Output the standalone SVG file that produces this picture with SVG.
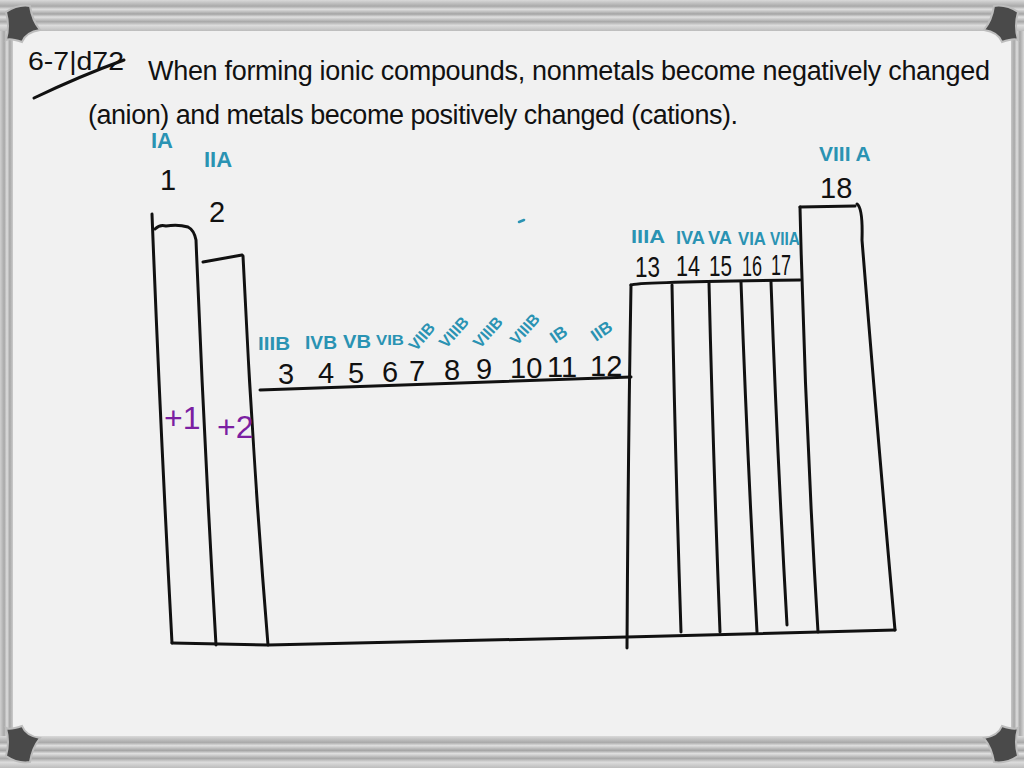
<svg xmlns="http://www.w3.org/2000/svg" width="1024" height="768" viewBox="0 0 1024 768">
<style>
.ln{fill:none;stroke:#111;stroke-width:3;stroke-linecap:round;stroke-linejoin:round}
.hw{font-family:"Liberation Sans",Arial,sans-serif;fill:#111}
.bl{font-family:"Liberation Sans",Arial,sans-serif;fill:#2a93b3;font-weight:bold}
.pu{font-family:"Liberation Sans",Arial,sans-serif;fill:#7b1fa2}
.num{font-family:"Liberation Sans",Arial,sans-serif;fill:#111;font-size:29px}
.corner{fill:#4a4a4a;stroke:#bdbdbd;stroke-width:2}
</style>
<defs>
<linearGradient id="hbar" x1="0" y1="0" x2="0" y2="1">
<stop offset="0" stop-color="#d9d9d9"/><stop offset="0.2" stop-color="#a9a9a9"/><stop offset="0.3" stop-color="#dedede"/><stop offset="0.45" stop-color="#a4a4a4"/><stop offset="0.55" stop-color="#e0e0e0"/><stop offset="0.7" stop-color="#a8a8a8"/><stop offset="0.82" stop-color="#dcdcdc"/><stop offset="1" stop-color="#bcbcbc"/>
</linearGradient>
<linearGradient id="vbar" x1="0" y1="0" x2="1" y2="0">
<stop offset="0" stop-color="#d0d0d0"/><stop offset="0.3" stop-color="#a8a8a8"/><stop offset="0.5" stop-color="#dedede"/><stop offset="0.7" stop-color="#a6a6a6"/><stop offset="1" stop-color="#d8d8d8"/>
</linearGradient>
</defs>
<!-- frame -->
<rect x="0" y="0" width="1024" height="768" fill="#d4d4d4"/>
<rect x="0" y="0" width="1024" height="31" fill="url(#hbar)"/>
<rect x="0" y="736" width="1024" height="32" fill="url(#hbar)"/>
<rect x="0" y="31" width="14" height="705" fill="url(#vbar)"/>
<rect x="1010" y="31" width="14" height="705" fill="url(#vbar)"/>
<rect x="13" y="31" width="998" height="705" fill="#f1f1f1"/>
<path class="corner" d="M6,12 Q18,4 30,6 Q32,20 40,30 Q26,32 22,42 Q10,38 6,40 Q10,26 6,12 Z"/>
<path class="corner" d="M1018,12 Q1006,4 994,6 Q992,20 984,30 Q998,32 1002,42 Q1014,38 1018,40 Q1014,26 1018,12 Z"/>
<path class="corner" d="M6,756 Q18,764 30,762 Q32,748 40,738 Q26,736 22,726 Q10,730 6,728 Q10,742 6,756 Z"/>
<path class="corner" d="M1018,756 Q1006,764 994,762 Q992,748 984,738 Q998,736 1002,726 Q1014,730 1018,728 Q1014,742 1018,756 Z"/>

<!-- heading text -->
<g id="heading">
<text class="hw" x="28" y="70" font-size="25" textLength="96" lengthAdjust="spacingAndGlyphs">6-7|d72</text>
<path class="ln" d="M34,98 Q80,76 124,60" stroke-width="2.5"/>
<text class="hw" x="148" y="80" font-size="27" textLength="842" lengthAdjust="spacing">When forming ionic compounds, nonmetals become negatively changed</text>
<text class="hw" x="88" y="124" font-size="27" textLength="650" lengthAdjust="spacing">(anion) and metals become positively changed (cations).</text>
</g>

<!-- table outline -->
<g id="table">
<path class="ln" d="M152,214 Q160,420 172,643"/>
<path class="ln" d="M155,229 Q160,224 166,226 Q178,224 188,227 Q194,230 196,240 Q204,440 216,645"/>
<path class="ln" d="M203,262 L242,255"/>
<path class="ln" d="M243,256 Q252,450 268,645"/>
<path class="ln" d="M172,643 L268,645 L627,637 L895,630"/>
<path class="ln" d="M260,390 L631,377"/>
<path class="ln" d="M631,285 Q628,460 627,648"/>
<path class="ln" d="M631,285 Q636,282 800,280"/>
<path class="ln" d="M672,285 Q675,450 681,632"/>
<path class="ln" d="M709,283 Q713,450 720,632"/>
<path class="ln" d="M741,282 Q747,450 757,632"/>
<path class="ln" d="M771,282 Q777,450 787,625"/>
<path class="ln" d="M800,207 Q805,420 818,632"/>
<path class="ln" d="M800,207 L855,206"/>
<path class="ln" d="M857,204 Q863,208 862,240 Q878,440 895,630"/>
</g>

<!-- group numbers -->
<g id="numbers">
<text class="num" x="160" y="190">1</text>
<text class="num" x="209" y="222">2</text>
<text class="num" x="278" y="384">3</text>
<text class="num" x="318" y="383">4</text>
<text class="num" x="348" y="383">5</text>
<text class="num" x="382" y="382">6</text>
<text class="num" x="409" y="381">7</text>
<text class="num" x="444" y="380">8</text>
<text class="num" x="476" y="379">9</text>
<text class="num" x="510" y="378">10</text>
<text class="num" x="547" y="377">11</text>
<text class="num" x="590" y="376">12</text>
<text class="num" x="635" y="277" font-size="23" textLength="25" lengthAdjust="spacingAndGlyphs">13</text>
<text class="num" x="676" y="276" font-size="23" textLength="24" lengthAdjust="spacingAndGlyphs">14</text>
<text class="num" x="709" y="276" font-size="23" textLength="23" lengthAdjust="spacingAndGlyphs">15</text>
<text class="num" x="742" y="276" font-size="23" textLength="20" lengthAdjust="spacingAndGlyphs">16</text>
<text class="num" x="771" y="275" font-size="23" textLength="20" lengthAdjust="spacingAndGlyphs">17</text>
<text class="num" x="820" y="198" font-size="27">18</text>
</g>

<!-- roman group labels -->
<g id="roman">
<text class="bl" x="151" y="148" font-size="22">IA</text>
<text class="bl" x="204" y="167" font-size="22">IIA</text>
<text class="bl" x="258" y="350" font-size="18" textLength="32" lengthAdjust="spacingAndGlyphs">IIIB</text>
<text class="bl" x="305" y="349" font-size="18" textLength="32" lengthAdjust="spacingAndGlyphs">IVB</text>
<text class="bl" x="343" y="348" font-size="18" textLength="28" lengthAdjust="spacingAndGlyphs">VB</text>
<text class="bl" x="376" y="345" font-size="15" textLength="28" lengthAdjust="spacingAndGlyphs">VIB</text>
<text class="bl" font-size="16" transform="translate(416,352) rotate(-50)">VIIB</text>
<text class="bl" font-size="16" transform="translate(446,349) rotate(-48)">VIIIB</text>
<text class="bl" font-size="16" transform="translate(480,349) rotate(-48)">VIIIB</text>
<text class="bl" font-size="16" transform="translate(517,346) rotate(-48)">VIIIB</text>
<text class="bl" font-size="17" transform="translate(555,344) rotate(-35)">IB</text>
<text class="bl" font-size="17" transform="translate(596,342) rotate(-35)">IIB</text>
<text class="bl" x="631" y="243" font-size="19" textLength="34" lengthAdjust="spacingAndGlyphs">IIIA</text>
<text class="bl" x="676" y="244" font-size="19" textLength="29" lengthAdjust="spacingAndGlyphs">IVA</text>
<text class="bl" x="708" y="244" font-size="19" textLength="24" lengthAdjust="spacingAndGlyphs">VA</text>
<text class="bl" x="738" y="245" font-size="19" textLength="28" lengthAdjust="spacingAndGlyphs">VIA</text>
<text class="bl" x="770" y="245" font-size="19" textLength="30" lengthAdjust="spacingAndGlyphs">VIIA</text>
<text class="bl" x="819" y="161" font-size="21">VIII A</text>
<path d="M519,222 L524,220" stroke="#2a93b3" stroke-width="2.5" stroke-linecap="round"/>
</g>

<!-- charges -->
<g id="charges">
<text class="pu" x="164" y="429" font-size="32">+1</text>
<text class="pu" x="217" y="438" font-size="32">+2</text>
</g>
</svg>
